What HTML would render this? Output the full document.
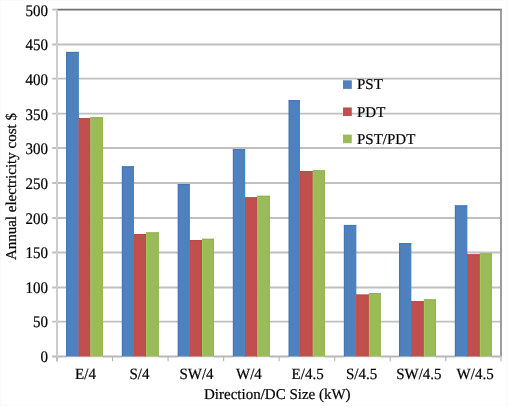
<!DOCTYPE html>
<html><head><meta charset="utf-8"><style>
html,body{margin:0;padding:0;background:#fff;}
body{width:508px;height:406px;overflow:hidden;}
svg{display:block;}
svg text{font-family:"Liberation Serif", "Times New Roman", serif;font-size:15.0px;fill:#000;text-rendering:geometricPrecision;stroke:#000;stroke-width:0.2px;}
</style></head><body>
<svg width="508" height="406" viewBox="0 0 508 406">
<rect x="0" y="0" width="508" height="406" fill="#fff"/>
<line x1="52.2" y1="321.58" x2="501.0" y2="321.58" stroke="#C0C0C0" stroke-width="1.9"/>
<line x1="52.2" y1="287.45" x2="501.0" y2="287.45" stroke="#C0C0C0" stroke-width="1.9"/>
<line x1="52.2" y1="252.50" x2="501.0" y2="252.50" stroke="#C0C0C0" stroke-width="1.9"/>
<line x1="52.2" y1="218.00" x2="501.0" y2="218.00" stroke="#C0C0C0" stroke-width="1.9"/>
<line x1="52.2" y1="183.00" x2="501.0" y2="183.00" stroke="#C0C0C0" stroke-width="1.9"/>
<line x1="52.2" y1="148.05" x2="501.0" y2="148.05" stroke="#C0C0C0" stroke-width="1.9"/>
<line x1="52.2" y1="113.64" x2="501.0" y2="113.64" stroke="#C0C0C0" stroke-width="1.9"/>
<line x1="52.2" y1="78.64" x2="501.0" y2="78.64" stroke="#C0C0C0" stroke-width="1.9"/>
<line x1="52.2" y1="44.53" x2="501.0" y2="44.53" stroke="#C0C0C0" stroke-width="1.9"/>
<line x1="52.2" y1="9.60" x2="57.0" y2="9.60" stroke="#C0C0C0" stroke-width="1.9"/>
<line x1="57.0" y1="9.60" x2="502.0" y2="9.60" stroke="#707070" stroke-width="1.6"/>
<line x1="501.0" y1="9.60" x2="501.0" y2="356.50" stroke="#9C9C9C" stroke-width="2"/>
<line x1="52.2" y1="356.50" x2="501.0" y2="356.50" stroke="#B8B8B8" stroke-width="1.8"/>
<rect x="66.15" y="51.90" width="12.55" height="304.60" fill="#4F81BD"/>
<rect x="66.15" y="51.90" width="1.1" height="304.60" fill="#4475B8"/>
<rect x="77.60" y="51.90" width="1.1" height="304.60" fill="#4387C8"/>
<rect x="66.15" y="51.90" width="12.55" height="1.1" fill="#4577B8"/>
<rect x="78.70" y="118.00" width="11.80" height="238.50" fill="#C0504D"/>
<rect x="78.70" y="118.00" width="1.1" height="238.50" fill="#CA4B42"/>
<rect x="89.40" y="118.00" width="1.1" height="238.50" fill="#C4454E"/>
<rect x="78.70" y="118.00" width="11.80" height="1.1" fill="#B84A47"/>
<rect x="90.50" y="117.20" width="12.45" height="239.30" fill="#9BBB59"/>
<rect x="90.50" y="117.20" width="1.1" height="239.30" fill="#99CA5A"/>
<rect x="101.85" y="117.20" width="1.1" height="239.30" fill="#95B54F"/>
<rect x="90.50" y="117.20" width="12.45" height="1.1" fill="#8FB350"/>
<rect x="121.90" y="166.30" width="12.10" height="190.20" fill="#4F81BD"/>
<rect x="121.90" y="166.30" width="1.1" height="190.20" fill="#4475B8"/>
<rect x="132.90" y="166.30" width="1.1" height="190.20" fill="#4387C8"/>
<rect x="121.90" y="166.30" width="12.10" height="1.1" fill="#4577B8"/>
<rect x="134.00" y="234.00" width="12.20" height="122.50" fill="#C0504D"/>
<rect x="134.00" y="234.00" width="1.1" height="122.50" fill="#CA4B42"/>
<rect x="145.10" y="234.00" width="1.1" height="122.50" fill="#C4454E"/>
<rect x="134.00" y="234.00" width="12.20" height="1.1" fill="#B84A47"/>
<rect x="146.20" y="232.40" width="12.50" height="124.10" fill="#9BBB59"/>
<rect x="146.20" y="232.40" width="1.1" height="124.10" fill="#99CA5A"/>
<rect x="157.60" y="232.40" width="1.1" height="124.10" fill="#95B54F"/>
<rect x="146.20" y="232.40" width="12.50" height="1.1" fill="#8FB350"/>
<rect x="177.80" y="184.00" width="12.00" height="172.50" fill="#4F81BD"/>
<rect x="177.80" y="184.00" width="1.1" height="172.50" fill="#4475B8"/>
<rect x="188.70" y="184.00" width="1.1" height="172.50" fill="#4387C8"/>
<rect x="177.80" y="184.00" width="12.00" height="1.1" fill="#4577B8"/>
<rect x="189.80" y="240.10" width="12.20" height="116.40" fill="#C0504D"/>
<rect x="189.80" y="240.10" width="1.1" height="116.40" fill="#CA4B42"/>
<rect x="200.90" y="240.10" width="1.1" height="116.40" fill="#C4454E"/>
<rect x="189.80" y="240.10" width="12.20" height="1.1" fill="#B84A47"/>
<rect x="202.00" y="238.80" width="12.00" height="117.70" fill="#9BBB59"/>
<rect x="202.00" y="238.80" width="1.1" height="117.70" fill="#99CA5A"/>
<rect x="212.90" y="238.80" width="1.1" height="117.70" fill="#95B54F"/>
<rect x="202.00" y="238.80" width="12.00" height="1.1" fill="#8FB350"/>
<rect x="232.90" y="149.10" width="12.20" height="207.40" fill="#4F81BD"/>
<rect x="232.90" y="149.10" width="1.1" height="207.40" fill="#4475B8"/>
<rect x="244.00" y="149.10" width="1.1" height="207.40" fill="#4387C8"/>
<rect x="232.90" y="149.10" width="12.20" height="1.1" fill="#4577B8"/>
<rect x="245.10" y="197.30" width="12.35" height="159.20" fill="#C0504D"/>
<rect x="245.10" y="197.30" width="1.1" height="159.20" fill="#CA4B42"/>
<rect x="256.35" y="197.30" width="1.1" height="159.20" fill="#C4454E"/>
<rect x="245.10" y="197.30" width="12.35" height="1.1" fill="#B84A47"/>
<rect x="257.45" y="195.80" width="12.35" height="160.70" fill="#9BBB59"/>
<rect x="257.45" y="195.80" width="1.1" height="160.70" fill="#99CA5A"/>
<rect x="268.70" y="195.80" width="1.1" height="160.70" fill="#95B54F"/>
<rect x="257.45" y="195.80" width="12.35" height="1.1" fill="#8FB350"/>
<rect x="288.70" y="100.00" width="11.30" height="256.50" fill="#4F81BD"/>
<rect x="288.70" y="100.00" width="1.1" height="256.50" fill="#4475B8"/>
<rect x="298.90" y="100.00" width="1.1" height="256.50" fill="#4387C8"/>
<rect x="288.70" y="100.00" width="11.30" height="1.1" fill="#4577B8"/>
<rect x="300.00" y="171.10" width="12.80" height="185.40" fill="#C0504D"/>
<rect x="300.00" y="171.10" width="1.1" height="185.40" fill="#CA4B42"/>
<rect x="311.70" y="171.10" width="1.1" height="185.40" fill="#C4454E"/>
<rect x="300.00" y="171.10" width="12.80" height="1.1" fill="#B84A47"/>
<rect x="312.80" y="170.30" width="12.10" height="186.20" fill="#9BBB59"/>
<rect x="312.80" y="170.30" width="1.1" height="186.20" fill="#99CA5A"/>
<rect x="323.80" y="170.30" width="1.1" height="186.20" fill="#95B54F"/>
<rect x="312.80" y="170.30" width="12.10" height="1.1" fill="#8FB350"/>
<rect x="343.90" y="224.95" width="12.30" height="131.55" fill="#4F81BD"/>
<rect x="343.90" y="224.95" width="1.1" height="131.55" fill="#4475B8"/>
<rect x="355.10" y="224.95" width="1.1" height="131.55" fill="#4387C8"/>
<rect x="343.90" y="224.95" width="12.30" height="1.1" fill="#4577B8"/>
<rect x="356.20" y="294.60" width="12.70" height="61.90" fill="#C0504D"/>
<rect x="356.20" y="294.60" width="1.1" height="61.90" fill="#CA4B42"/>
<rect x="367.80" y="294.60" width="1.1" height="61.90" fill="#C4454E"/>
<rect x="356.20" y="294.60" width="12.70" height="1.1" fill="#B84A47"/>
<rect x="368.90" y="293.00" width="11.80" height="63.50" fill="#9BBB59"/>
<rect x="368.90" y="293.00" width="1.1" height="63.50" fill="#99CA5A"/>
<rect x="379.60" y="293.00" width="1.1" height="63.50" fill="#95B54F"/>
<rect x="368.90" y="293.00" width="11.80" height="1.1" fill="#8FB350"/>
<rect x="399.00" y="243.00" width="12.20" height="113.50" fill="#4F81BD"/>
<rect x="399.00" y="243.00" width="1.1" height="113.50" fill="#4475B8"/>
<rect x="410.10" y="243.00" width="1.1" height="113.50" fill="#4387C8"/>
<rect x="399.00" y="243.00" width="12.20" height="1.1" fill="#4577B8"/>
<rect x="411.20" y="301.20" width="12.70" height="55.30" fill="#C0504D"/>
<rect x="411.20" y="301.20" width="1.1" height="55.30" fill="#CA4B42"/>
<rect x="422.80" y="301.20" width="1.1" height="55.30" fill="#C4454E"/>
<rect x="411.20" y="301.20" width="12.70" height="1.1" fill="#B84A47"/>
<rect x="423.90" y="299.40" width="12.10" height="57.10" fill="#9BBB59"/>
<rect x="423.90" y="299.40" width="1.1" height="57.10" fill="#99CA5A"/>
<rect x="434.90" y="299.40" width="1.1" height="57.10" fill="#95B54F"/>
<rect x="423.90" y="299.40" width="12.10" height="1.1" fill="#8FB350"/>
<rect x="454.90" y="205.40" width="12.30" height="151.10" fill="#4F81BD"/>
<rect x="454.90" y="205.40" width="1.1" height="151.10" fill="#4475B8"/>
<rect x="466.10" y="205.40" width="1.1" height="151.10" fill="#4387C8"/>
<rect x="454.90" y="205.40" width="12.30" height="1.1" fill="#4577B8"/>
<rect x="467.20" y="254.30" width="12.70" height="102.20" fill="#C0504D"/>
<rect x="467.20" y="254.30" width="1.1" height="102.20" fill="#CA4B42"/>
<rect x="478.80" y="254.30" width="1.1" height="102.20" fill="#C4454E"/>
<rect x="467.20" y="254.30" width="12.70" height="1.1" fill="#B84A47"/>
<rect x="479.90" y="253.40" width="11.90" height="103.10" fill="#9BBB59"/>
<rect x="479.90" y="253.40" width="1.1" height="103.10" fill="#99CA5A"/>
<rect x="490.70" y="253.40" width="1.1" height="103.10" fill="#95B54F"/>
<rect x="479.90" y="253.40" width="11.90" height="1.1" fill="#8FB350"/>
<rect x="66.15" y="356.80" width="36.80" height="1" fill="#fff" fill-opacity="0.8"/>
<rect x="121.90" y="356.80" width="36.80" height="1" fill="#fff" fill-opacity="0.8"/>
<rect x="177.80" y="356.80" width="36.20" height="1" fill="#fff" fill-opacity="0.8"/>
<rect x="232.90" y="356.80" width="36.90" height="1" fill="#fff" fill-opacity="0.8"/>
<rect x="288.70" y="356.80" width="36.20" height="1" fill="#fff" fill-opacity="0.8"/>
<rect x="343.90" y="356.80" width="36.80" height="1" fill="#fff" fill-opacity="0.8"/>
<rect x="399.00" y="356.80" width="37.00" height="1" fill="#fff" fill-opacity="0.8"/>
<rect x="454.90" y="356.80" width="36.90" height="1" fill="#fff" fill-opacity="0.8"/>
<line x1="57.0" y1="9.60" x2="57.0" y2="361.4" stroke="#CDCDCD" stroke-width="2"/>
<line x1="57.00" y1="356.50" x2="57.00" y2="361.2" stroke="#B4B4B4" stroke-width="1.1"/>
<line x1="112.54" y1="356.50" x2="112.54" y2="361.2" stroke="#B4B4B4" stroke-width="1.1"/>
<line x1="168.08" y1="356.50" x2="168.08" y2="361.2" stroke="#B4B4B4" stroke-width="1.1"/>
<line x1="223.62" y1="356.50" x2="223.62" y2="361.2" stroke="#B4B4B4" stroke-width="1.1"/>
<line x1="279.16" y1="356.50" x2="279.16" y2="361.2" stroke="#B4B4B4" stroke-width="1.1"/>
<line x1="334.70" y1="356.50" x2="334.70" y2="361.2" stroke="#B4B4B4" stroke-width="1.1"/>
<line x1="390.24" y1="356.50" x2="390.24" y2="361.2" stroke="#B4B4B4" stroke-width="1.1"/>
<line x1="445.78" y1="356.50" x2="445.78" y2="361.2" stroke="#B4B4B4" stroke-width="1.1"/>
<line x1="501.00" y1="356.50" x2="501.00" y2="361.2" stroke="#B4B4B4" stroke-width="1.1"/>
<text transform="translate(48 362.25) scale(1 1.08)" text-anchor="end">0</text>
<text transform="translate(48 327.23) scale(1 1.08)" text-anchor="end">50</text>
<text transform="translate(48 293.10) scale(1 1.08)" text-anchor="end">100</text>
<text transform="translate(48 258.15) scale(1 1.08)" text-anchor="end">150</text>
<text transform="translate(48 223.65) scale(1 1.08)" text-anchor="end">200</text>
<text transform="translate(48 188.65) scale(1 1.08)" text-anchor="end">250</text>
<text transform="translate(48 153.70) scale(1 1.08)" text-anchor="end">300</text>
<text transform="translate(48 120.29) scale(1 1.08)" text-anchor="end">350</text>
<text transform="translate(48 85.29) scale(1 1.08)" text-anchor="end">400</text>
<text transform="translate(48 50.18) scale(1 1.08)" text-anchor="end">450</text>
<text transform="translate(48 16.24) scale(1 1.08)" text-anchor="end">500</text>
<text transform="translate(85.50 379) scale(1 1.045)" text-anchor="middle">E/4</text>
<text transform="translate(139.50 379) scale(1 1.045)" text-anchor="middle">S/4</text>
<text transform="translate(196.50 379) scale(1 1.045)" text-anchor="middle">SW/4</text>
<text transform="translate(248.90 379) scale(1 1.045)" text-anchor="middle">W/4</text>
<text transform="translate(307.60 379) scale(1 1.045)" text-anchor="middle">E/4.5</text>
<text transform="translate(361.60 379) scale(1 1.045)" text-anchor="middle">S/4.5</text>
<text transform="translate(418.90 379) scale(1 1.045)" text-anchor="middle">SW/4.5</text>
<text transform="translate(475.10 379) scale(1 1.045)" text-anchor="middle">W/4.5</text>
<rect x="343" y="80.30" width="8.8" height="8.6" fill="#4F81BD"/>
<text x="357" y="89.40">PST</text>
<rect x="343" y="107.45" width="8.8" height="8.6" fill="#C0504D"/>
<text x="357" y="116.60">PDT</text>
<rect x="343" y="134.60" width="8.8" height="8.6" fill="#9BBB59"/>
<text x="357" y="143.80">PST/PDT</text>
<text x="277.3" y="398.9" text-anchor="middle">Direction/DC Size (kW)</text>
<text transform="translate(15.8 186.6) rotate(-90)" text-anchor="middle">Annual electricity cost $</text>
<rect x="0.5" y="0.5" width="507" height="405" fill="none" stroke="#FAFAFA" stroke-width="1"/>
</svg>
</body></html>
